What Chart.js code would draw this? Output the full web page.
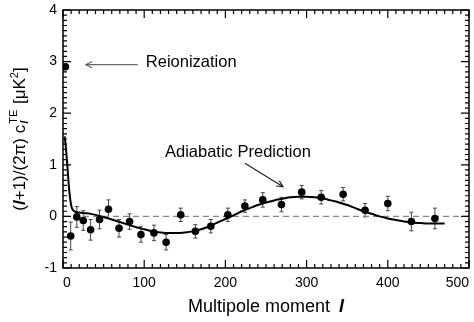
<!DOCTYPE html>
<html>
<head>
<meta charset="utf-8">
<script src="https://cdn.jsdelivr.net/npm/chart.js@4.4.1/dist/chart.umd.min.js"></script>
<style>
  html, body { margin: 0; padding: 0; background: #fff; }
  #wrap { width: 474px; height: 322px; }
</style>
</head>
<body>
<div id="wrap"><canvas id="chart" width="474" height="322"></canvas></div>
<script>
// binned TE cross-power points (multipole, value, 1-sigma error)
const ell = [3, 9.5, 17, 25, 34, 45, 56, 69, 82, 96, 112, 127, 145, 163, 182, 203, 224, 246, 269, 294, 318, 345, 372, 400, 429, 458];
const cTE = [2.9, -0.38, -0.01, -0.08, -0.26, -0.06, 0.14, -0.23, -0.10, -0.35, -0.32, -0.50, 0.03, -0.29, -0.19, 0.03, 0.20, 0.32, 0.23, 0.47, 0.37, 0.43, 0.12, 0.25, -0.10, -0.04];
const cErr = [0, 0.27, 0.20, 0.19, 0.20, 0.18, 0.18, 0.17, 0.15, 0.15, 0.15, 0.15, 0.13, 0.13, 0.13, 0.13, 0.12, 0.14, 0.14, 0.13, 0.13, 0.13, 0.13, 0.14, 0.18, 0.20];

// adiabatic model curve
const modelEll = [2, 3, 4, 5, 6, 7, 8, 9, 10, 11, 13, 16, 20, 30, 40, 50, 60, 70, 80, 90, 100, 110, 120, 130, 140, 150, 160, 170, 180, 190, 200, 210, 220, 230, 240, 250, 260, 270, 280, 290, 300, 310, 320, 330, 340, 350, 360, 370, 380, 390, 400, 410, 420, 430, 440, 450, 460, 470];
const modelTE = [1.55, 1.42, 1.25, 1.05, 0.85, 0.62, 0.45, 0.32, 0.22, 0.16, 0.11, 0.085, 0.075, 0.06, 0.03, -0.01, -0.06, -0.11, -0.16, -0.21, -0.25, -0.29, -0.31, -0.32, -0.32, -0.31, -0.29, -0.25, -0.19, -0.12, -0.05, 0.02, 0.10, 0.16, 0.22, 0.27, 0.31, 0.34, 0.37, 0.38, 0.38, 0.37, 0.35, 0.31, 0.27, 0.22, 0.16, 0.10, 0.05, 0.0, -0.04, -0.07, -0.10, -0.12, -0.13, -0.14, -0.14, -0.14];

const xRange = [0, 500];
const yRange = [-1, 4];

const FONT = '"Liberation Sans", Arial, Helvetica, sans-serif';

function arrow(ctx, x1, y1, x2, y2, color, lw) {
  ctx.save();
  ctx.strokeStyle = color;
  ctx.lineWidth = lw;
  ctx.beginPath();
  ctx.moveTo(x1, y1);
  ctx.lineTo(x2, y2);
  const a = Math.atan2(y2 - y1, x2 - x1);
  const len = 7, spread = 0.45;
  ctx.moveTo(x2 - len * Math.cos(a - spread), y2 - len * Math.sin(a - spread));
  ctx.lineTo(x2, y2);
  ctx.lineTo(x2 - len * Math.cos(a + spread), y2 - len * Math.sin(a + spread));
  ctx.stroke();
  ctx.restore();
}

const framePlugin = {
  id: 'frame',
  beforeDatasetsDraw(chart) {
    const ctx = chart.ctx, x = chart.scales.x, y = chart.scales.y;
    ctx.save();
    ctx.strokeStyle = '#444';
    ctx.lineWidth = 1;
    ell.forEach((l, i) => {
      if (!cErr[i]) return;
      const px = x.getPixelForValue(l);
      const t = y.getPixelForValue(cTE[i] + cErr[i]);
      const b = y.getPixelForValue(cTE[i] - cErr[i]);
      ctx.beginPath();
      ctx.moveTo(px, t); ctx.lineTo(px, b);
      ctx.moveTo(px - 2, t); ctx.lineTo(px + 2, t);
      ctx.moveTo(px - 2, b); ctx.lineTo(px + 2, b);
      ctx.stroke();
    });
    ctx.restore();
  },
  afterDraw(chart) {
    const ctx = chart.ctx, x = chart.scales.x, y = chart.scales.y;
    const a = chart.chartArea;
    ctx.save();
    ctx.strokeStyle = '#000';
    ctx.lineWidth = 1.5;
    ctx.strokeRect(a.left, a.top, a.right - a.left, a.bottom - a.top);
    // inward ticks
    ctx.lineWidth = 1.2;
    ctx.beginPath();
    for (let v = xRange[0]; v <= xRange[1]; v += 10) {
      const px = x.getPixelForValue(v);
      const L = v % 100 === 0 ? 8 : 4;
      ctx.moveTo(px, a.bottom); ctx.lineTo(px, a.bottom - L);
      ctx.moveTo(px, a.top); ctx.lineTo(px, a.top + L);
    }
    for (let k = 0; k <= 50; k++) {
      const v = yRange[0] + k * 0.1;
      const py = y.getPixelForValue(v);
      const L = k % 10 === 0 ? 8 : 4;
      ctx.moveTo(a.left, py); ctx.lineTo(a.left + L, py);
      ctx.moveTo(a.right, py); ctx.lineTo(a.right - L, py);
    }
    ctx.stroke();

    // annotations
    ctx.fillStyle = '#000';
    ctx.font = '16.5px ' + FONT;
    ctx.textBaseline = 'middle';
    ctx.textAlign = 'left';
    ctx.fillText('Reionization', x.getPixelForValue(102), y.getPixelForValue(2.99));
    arrow(ctx, x.getPixelForValue(92), y.getPixelForValue(2.94), x.getPixelForValue(28), y.getPixelForValue(2.94), '#444', 1);
    ctx.fillText('Adiabatic Prediction', x.getPixelForValue(125.6), y.getPixelForValue(1.24));
    arrow(ctx, x.getPixelForValue(224), y.getPixelForValue(1.03), x.getPixelForValue(271), y.getPixelForValue(0.575), '#222', 1.2);

    // x title
    ctx.textBaseline = 'alphabetic';
    const xt = 'Multipole moment';
    ctx.font = '18px ' + FONT;
    const w1 = ctx.measureText(xt).width;
    ctx.font = 'italic bold 18px ' + FONT;
    const w2 = ctx.measureText('l').width;
    let sx = (a.left + a.right) / 2 - (w1 + 9 + w2) / 2;
    ctx.font = '18px ' + FONT;
    ctx.fillText(xt, sx, 312);
    ctx.font = 'italic bold 18px ' + FONT;
    ctx.fillText('l', sx + w1 + 9, 312);

    // y title
    const fs = 17, ss = 11;
    const parts = [
      { t: '(', f: fs + 'px ' + FONT, dy: 0 },
      { t: 'l', f: 'italic bold ' + fs + 'px ' + FONT, dy: 0 },
      { t: '+1)/(2\u03c0) c', f: fs + 'px ' + FONT, dy: 0 },
      { t: 'l', f: 'italic bold ' + ss + 'px ' + FONT, dy: 3, stackWith: 'TE' },
      { t: ' [\u03bcK', f: fs + 'px ' + FONT, dy: 0 },
      { t: '2', f: ss + 'px ' + FONT, dy: -7 },
      { t: ']', f: fs + 'px ' + FONT, dy: 0 }
    ];
    let total = 0;
    parts.forEach(p => {
      ctx.font = p.f;
      let w = ctx.measureText(p.t).width;
      if (p.stackWith) { ctx.font = ss + 'px ' + FONT; w = Math.max(w, ctx.measureText(p.stackWith).width); }
      p.w = w + (p.stackWith ? 2 : 0);
      total += p.w;
    });
    ctx.translate(25, (a.top + a.bottom) / 2);
    ctx.rotate(-Math.PI / 2);
    let cx = -total / 2;
    parts.forEach(p => {
      ctx.font = p.f;
      ctx.fillText(p.t, cx + (p.stackWith ? 1 : 0), p.dy);
      if (p.stackWith) {
        ctx.font = ss + 'px ' + FONT;
        ctx.fillText(p.stackWith, cx + 1, -8);
      }
      cx += p.w;
    });
    ctx.restore();
  }
};

const points = ell.map((l, i) => ({ x: l, y: cTE[i] }));
const model = modelEll.map((l, i) => ({ x: l, y: modelTE[i] }));

new Chart(document.getElementById('chart'), {
  type: 'scatter',
  data: {
    datasets: [
      {
        label: 'data',
        data: points,
        order: 0,
        pointRadius: 3.8,
        pointBackgroundColor: '#000',
        pointBorderWidth: 0,
        showLine: false
      },
      {
        label: 'adiabatic',
        data: model,
        order: 1,
        showLine: true,
        borderColor: '#000',
        borderWidth: 2,
        pointRadius: 0,
        cubicInterpolationMode: 'monotone'
      },
      {
        label: 'zero',
        data: [{ x: xRange[0], y: 0 }, { x: xRange[1], y: 0 }],
        order: 2,
        showLine: true,
        borderColor: '#888',
        borderWidth: 1.3,
        borderDash: [6, 4],
        pointRadius: 0
      }
    ]
  },
  options: {
    responsive: false,
    animation: false,
    devicePixelRatio: 1,
    layout: { padding: 0 },
    plugins: { legend: { display: false }, tooltip: { enabled: false } },
    scales: {
      x: {
        type: 'linear', position: 'bottom', min: xRange[0], max: xRange[1],
        afterFit: s => { s.height = 54; s.paddingLeft = 0; s.paddingRight = 0; },
        grid: { display: false, drawTicks: false },
        border: { display: false },
        ticks: { stepSize: 100, padding: 7, color: '#000', maxRotation: 0, align: 'inner', font: { family: FONT, size: 14 } }
      },
      y: {
        type: 'linear', position: 'left', min: yRange[0], max: yRange[1],
        afterFit: s => { s.width = 63; s.paddingTop = 0; s.paddingBottom = 0; },
        grid: { display: false, drawTicks: false },
        border: { display: false },
        ticks: { stepSize: 1, padding: 6, color: '#000', font: { family: FONT, size: 14 } }
      },
      xTop: {
        type: 'linear', position: 'top', min: xRange[0], max: xRange[1],
        afterFit: s => { s.height = 10; s.paddingLeft = 0; s.paddingRight = 0; },
        grid: { display: false, drawTicks: false },
        border: { display: false },
        ticks: { display: false }
      },
      yRight: {
        type: 'linear', position: 'right', min: yRange[0], max: yRange[1],
        afterFit: s => { s.width = 5; s.paddingTop = 0; s.paddingBottom = 0; },
        grid: { display: false, drawTicks: false },
        border: { display: false },
        ticks: { display: false }
      }
    }
  },
  plugins: [framePlugin]
});
</script>
</body>
</html>
